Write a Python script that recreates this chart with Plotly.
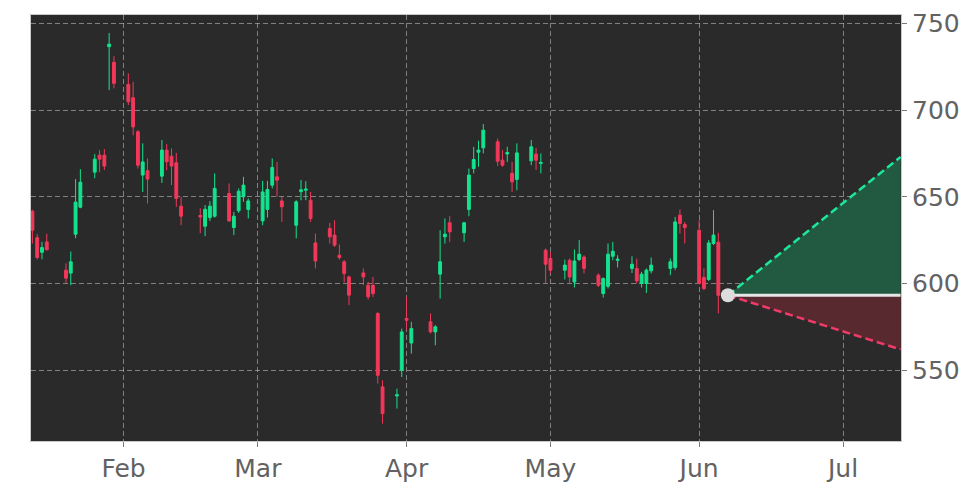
import plotly.graph_objects as go

# daily prices (2026)
dates = [
    "2026-01-13", "2026-01-14", "2026-01-15", "2026-01-16",
    "2026-01-20", "2026-01-21", "2026-01-22", "2026-01-23",
    "2026-01-26", "2026-01-27", "2026-01-28", "2026-01-29", "2026-01-30",
    "2026-02-02", "2026-02-03", "2026-02-04", "2026-02-05", "2026-02-06",
    "2026-02-09", "2026-02-10", "2026-02-11", "2026-02-12", "2026-02-13",
    "2026-02-17", "2026-02-18", "2026-02-19", "2026-02-20",
    "2026-02-23", "2026-02-24", "2026-02-25", "2026-02-26", "2026-02-27",
    "2026-03-02", "2026-03-03", "2026-03-04", "2026-03-05", "2026-03-06",
    "2026-03-09", "2026-03-10", "2026-03-11", "2026-03-12", "2026-03-13",
    "2026-03-16", "2026-03-17", "2026-03-18", "2026-03-19", "2026-03-20",
    "2026-03-23", "2026-03-24", "2026-03-25", "2026-03-26", "2026-03-27",
    "2026-03-30", "2026-03-31", "2026-04-01", "2026-04-02",
    "2026-04-06", "2026-04-07", "2026-04-08", "2026-04-09", "2026-04-10",
    "2026-04-13", "2026-04-14", "2026-04-15", "2026-04-16", "2026-04-17",
    "2026-04-20", "2026-04-21", "2026-04-22", "2026-04-23", "2026-04-24",
    "2026-04-27", "2026-04-28", "2026-04-29", "2026-04-30", "2026-05-01",
    "2026-05-04", "2026-05-05", "2026-05-06", "2026-05-07", "2026-05-08",
    "2026-05-11", "2026-05-12", "2026-05-13", "2026-05-14", "2026-05-15",
    "2026-05-18", "2026-05-19", "2026-05-20", "2026-05-21", "2026-05-22",
    "2026-05-26", "2026-05-27", "2026-05-28", "2026-05-29",
    "2026-06-01", "2026-06-02", "2026-06-03", "2026-06-04", "2026-06-05",
]
opens = [
    641.7, 626.4, 618.0, 624.0,
    607.7, 606.0, 628.4, 644.0,
    664.2, 674.0, 674.0, 736.5, 727.5,
    714.8, 707.1, 687.5, 662.5, 665.0,
    661.9, 676.9, 673.4, 669.6, 644.6,
    639.2, 633.0, 638.0, 638.8,
    651.9, 632.3, 641.9, 650.0, 642.7,
    636.1, 642.7, 656.7, 661.5, 647.6,
    633.6, 653.0, 653.8, 648.0, 623.4,
    631.7, 627.9, 616.3, 612.5, 603.8,
    606.1, 599.0, 599.0, 582.7, 540.4,
    535.2, 550.0, 579.8, 565.7,
    577.9, 572.1, 605.4, 626.9, 635.0,
    629.2, 642.7, 666.3, 675.7, 678.2,
    681.7, 671.1, 674.7, 663.5, 660.0,
    670.7, 674.6, 669.2, 619.2, 614.4,
    607.7, 613.4, 600.9, 613.8, 615.3,
    604.8, 594.2, 598.4, 615.7, 613.4,
    608.7, 608.7, 600.0, 600.0, 607.3,
    608.7, 609.2, 639.4, 634.0,
    630.7, 603.5, 602.3, 623.1, 623.8,
]
highs = [
    642.5, 628.5, 624.0, 628.7,
    611.7, 618.4, 660.2, 665.9,
    674.6, 676.9, 677.5, 744.4, 731.1,
    721.1, 716.3, 688.4, 680.8, 672.1,
    682.7, 680.4, 677.9, 675.3, 650.0,
    643.4, 645.2, 647.5, 663.5,
    657.7, 641.3, 654.8, 661.5, 649.0,
    659.2, 659.2, 672.1, 670.1, 650.0,
    648.0, 659.6, 659.0, 652.8, 628.8,
    635.0, 636.5, 622.5, 613.5, 604.5,
    608.7, 600.9, 603.8, 583.5, 544.2,
    539.4, 574.0, 592.3, 577.9,
    582.7, 576.0, 630.7, 637.5, 638.8,
    635.5, 666.3, 678.8, 682.3, 691.9,
    683.6, 676.9, 678.8, 670.1, 680.8,
    682.7, 678.2, 675.0, 620.2, 618.2,
    613.8, 614.4, 619.6, 625.0, 616.3,
    605.8, 603.5, 623.1, 624.0, 616.3,
    615.7, 614.4, 606.7, 608.7, 615.0,
    614.4, 638.4, 642.7, 635.5,
    636.5, 608.7, 625.0, 642.3, 629.2,
]
lows = [
    623.0, 613.8, 614.0, 619.0,
    600.2, 599.0, 626.1, 643.4,
    660.7, 664.2, 665.4, 711.5, 712.5,
    702.9, 685.5, 666.3, 652.8, 646.1,
    658.0, 665.4, 656.7, 644.2, 633.6,
    629.0, 627.3, 636.0, 638.0,
    635.5, 627.9, 640.7, 647.1, 637.5,
    633.6, 638.0, 654.8, 650.0, 635.5,
    626.0, 648.0, 648.0, 635.5, 608.7,
    623.1, 621.1, 613.8, 600.6, 587.5,
    599.0, 590.8, 592.3, 542.3, 519.2,
    527.9, 546.1, 573.1, 559.6,
    571.2, 564.4, 591.3, 623.0, 624.0,
    624.0, 638.8, 663.5, 667.3, 675.0,
    667.7, 667.3, 670.1, 652.8, 653.8,
    668.2, 665.4, 663.5, 600.0, 605.8,
    602.3, 600.4, 597.7, 613.0, 605.8,
    598.0, 591.9, 597.1, 613.4, 609.2,
    606.1, 600.0, 597.7, 594.6, 605.8,
    604.8, 607.7, 628.8, 623.1,
    599.5, 596.1, 601.5, 622.1, 582.8,
]
closes = [
    630.7, 615.0, 620.7, 619.5,
    603.1, 612.5, 646.9, 658.4,
    671.7, 671.7, 667.7, 738.0, 715.4,
    704.8, 690.3, 668.2, 670.1, 660.2,
    676.9, 670.2, 667.7, 649.0, 638.8,
    638.4, 642.8, 644.6, 654.8,
    636.1, 638.8, 653.2, 656.7, 647.6,
    652.8, 654.2, 666.9, 659.6, 644.2,
    647.1, 654.0, 654.4, 637.5, 613.0,
    626.9, 622.1, 615.0, 605.8, 593.3,
    603.8, 592.3, 594.2, 547.1, 525.0,
    535.8, 572.1, 578.8, 574.0,
    572.1, 575.0, 612.5, 628.4, 629.8,
    635.0, 662.5, 671.5, 676.9, 688.4,
    670.5, 668.2, 675.5, 658.6, 675.3,
    678.8, 671.1, 669.8, 611.1, 607.7,
    610.6, 603.8, 613.0, 616.9, 608.7,
    599.0, 602.9, 616.9, 618.6, 614.0,
    611.1, 601.5, 605.4, 607.7, 610.6,
    612.5, 635.5, 634.6, 632.3,
    600.0, 597.1, 623.4, 627.9, 593.2,
]

# forecast cone
cone_dates = ["2026-06-07", "2026-07-13"]
last_price = 593.2
cone_high = 673.0
cone_low = 562.0

tick_font = dict(family="DejaVu Sans", size=25, color="#626262")
grid_style = dict(showgrid=True, gridcolor="rgba(200,200,200,0.55)", griddash="5px,3px", gridwidth=1)

fig = go.Figure()

fig.add_trace(go.Candlestick(
    x=dates, open=opens, high=highs, low=lows, close=closes,
    increasing=dict(line=dict(color="#14e38e", width=1), fillcolor="#14e38e"),
    decreasing=dict(line=dict(color="#f2385a", width=1), fillcolor="#f2385a"),
    showlegend=False, hoverinfo="skip",
))

# green upper area
fig.add_trace(go.Scatter(x=cone_dates, y=[last_price, last_price], mode="lines",
                         line=dict(width=0), showlegend=False, hoverinfo="skip"))
fig.add_trace(go.Scatter(x=cone_dates, y=[last_price, cone_high], mode="lines",
                         line=dict(color="#1de59a", width=2.5, dash="8px,4px"),
                         fill="tonexty", fillcolor="#215a40",
                         showlegend=False, hoverinfo="skip"))
# red lower area
fig.add_trace(go.Scatter(x=cone_dates, y=[last_price, last_price], mode="lines",
                         line=dict(width=0), showlegend=False, hoverinfo="skip"))
fig.add_trace(go.Scatter(x=cone_dates, y=[last_price, cone_low], mode="lines",
                         line=dict(color="#f03a68", width=2.5, dash="8px,4px"),
                         fill="tonexty", fillcolor="#582a30",
                         showlegend=False, hoverinfo="skip"))
# flat line + last price dot
fig.add_trace(go.Scatter(x=cone_dates, y=[last_price, last_price], mode="lines",
                         line=dict(color="#e6e6e6", width=3),
                         showlegend=False, hoverinfo="skip"))
fig.add_trace(go.Scatter(x=[cone_dates[0]], y=[last_price], mode="markers",
                         marker=dict(color="#dcdcdc", size=14),
                         showlegend=False, hoverinfo="skip"))

# page body adds 8px offset, so margins are trimmed to match
fig.update_layout(
    width=964, height=478,
    margin=dict(l=23, r=71, t=7, b=45),
    paper_bgcolor="white",
    plot_bgcolor="#2a2a2a",
    showlegend=False,
    boxgap=0.15,
)
fig.update_xaxes(
    type="date",
    range=["2026-01-12 17:00", "2026-07-13 02:00"],
    rangeslider_visible=False,
    tickvals=["2026-02-01", "2026-03-01", "2026-04-01", "2026-05-01", "2026-06-01", "2026-07-01"],
    ticktext=["Feb", "Mar", "Apr", "May", "Jun", "Jul"],
    tickfont=tick_font,
    ticks="outside", ticklen=5, tickcolor="#777777",
    showline=True, linecolor="#c8c8c8", mirror=True,
    zeroline=False, automargin=False,
    **grid_style,
)
fig.update_yaxes(
    side="right",
    range=[509.2, 754.8],
    tickvals=[550, 600, 650, 700, 750],
    tickfont=tick_font,
    ticks="outside", ticklen=5, tickcolor="#777777",
    showline=True, linecolor="#c8c8c8", mirror=True,
    zeroline=False, automargin=False,
    **grid_style,
)

fig.write_html("out.html")
